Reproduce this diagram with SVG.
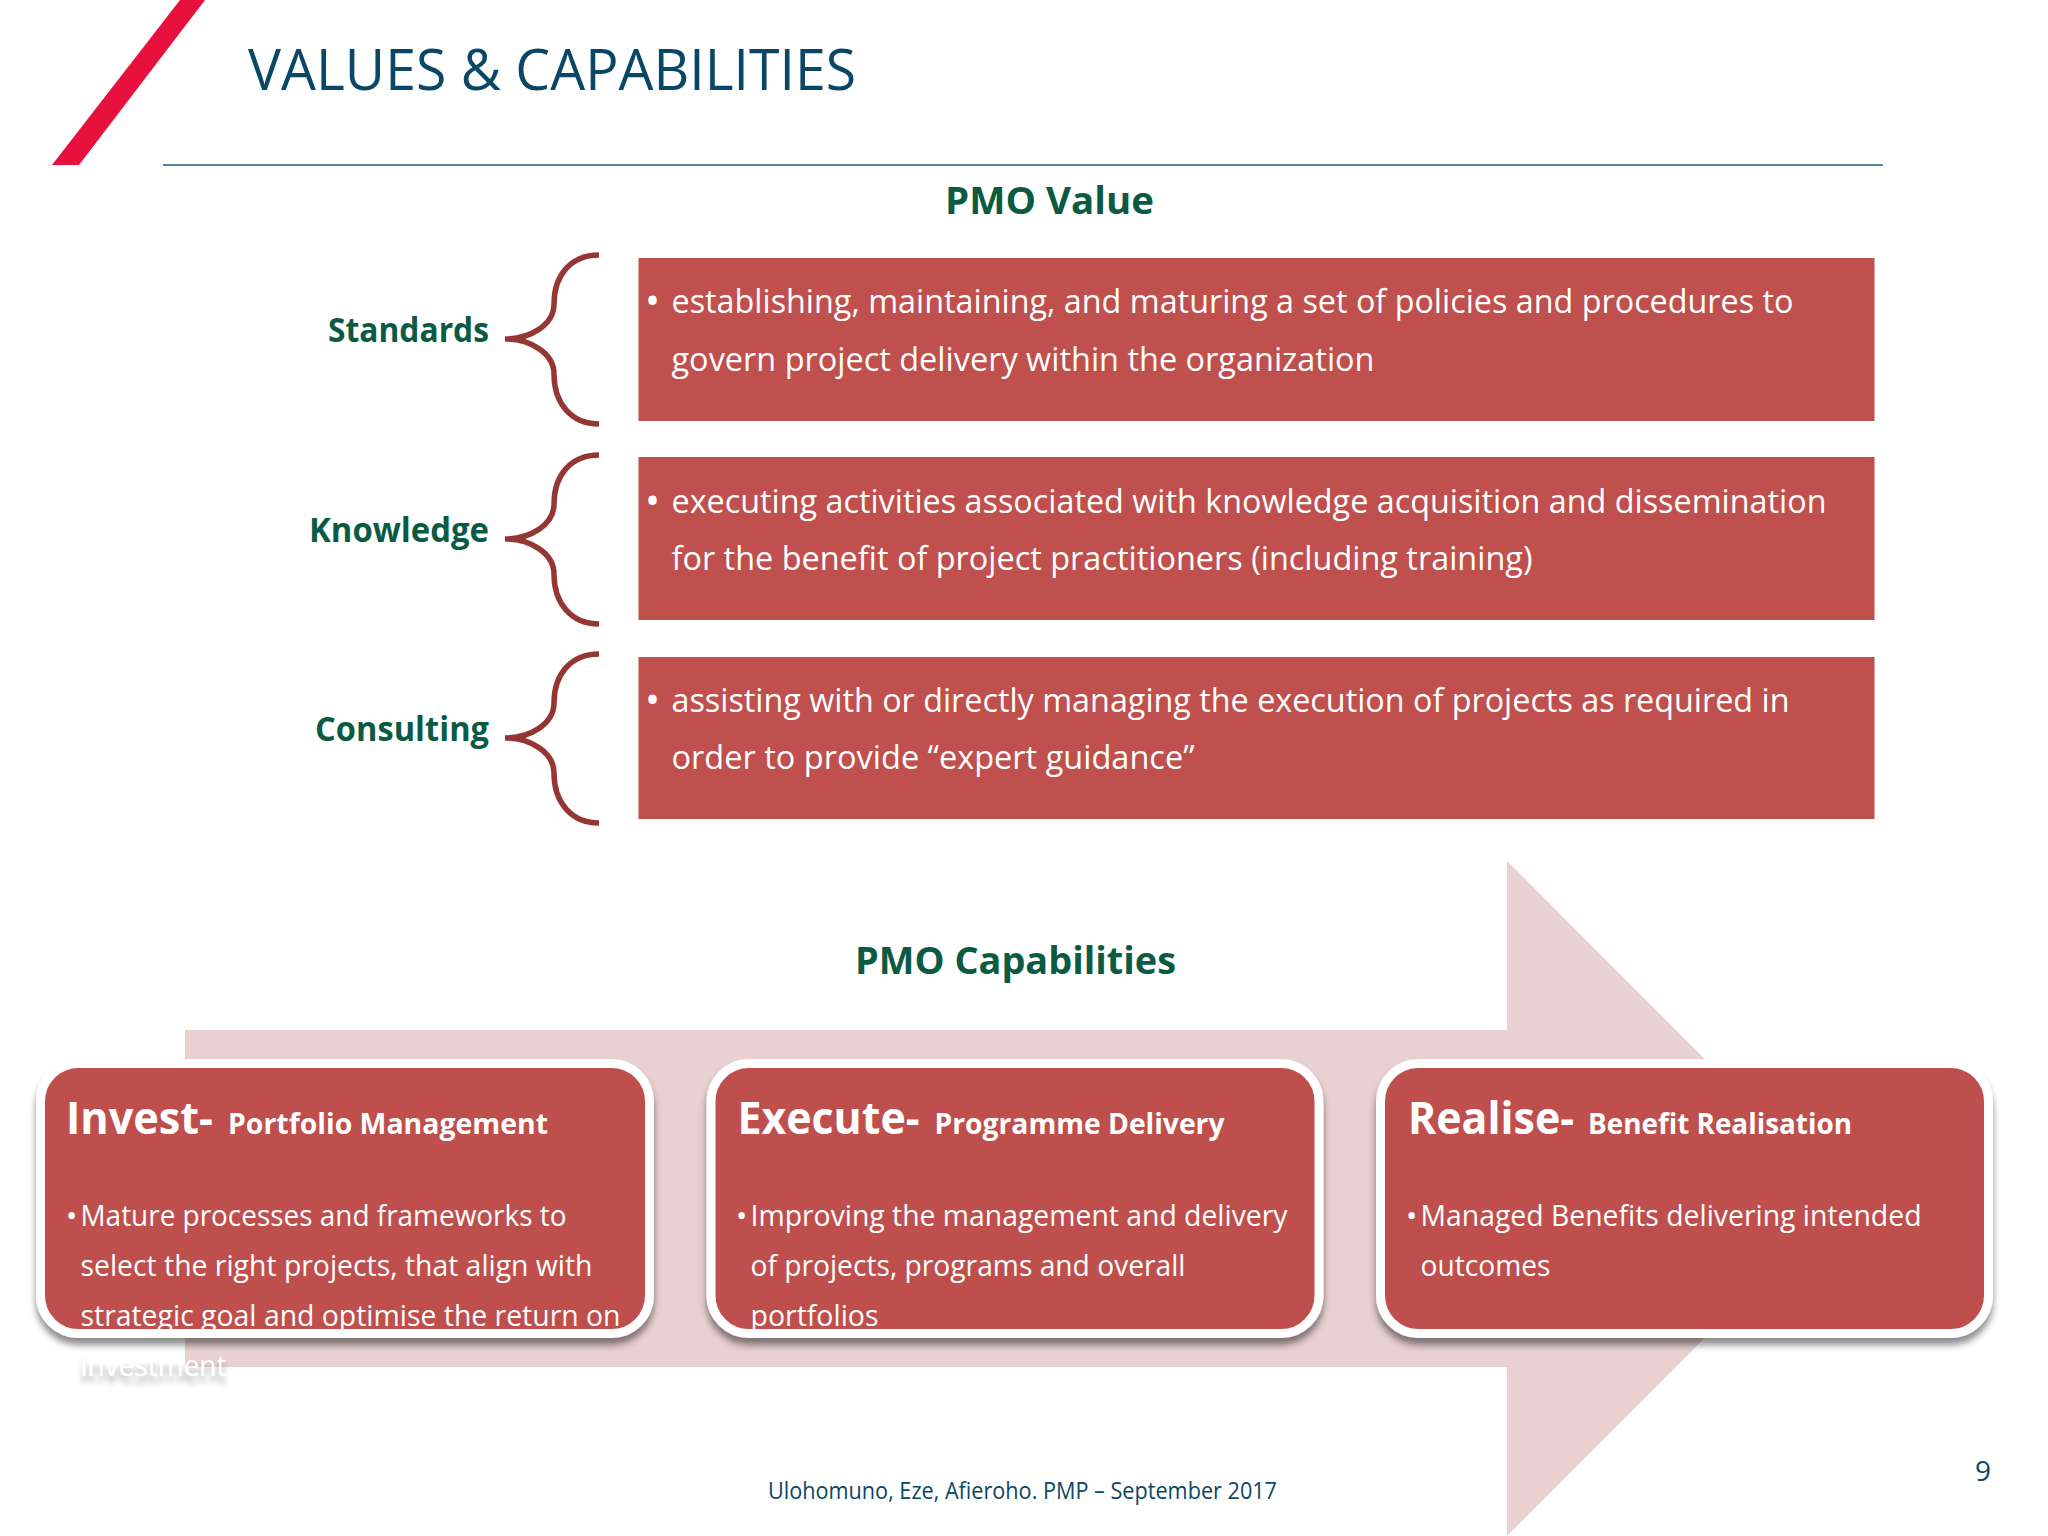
<svg xmlns="http://www.w3.org/2000/svg" xmlns:xlink="http://www.w3.org/1999/xlink" width="2048" height="1536" viewBox="0 0 2048 1536">
<style>
text{font-family:"Open Sans","Noto Sans","Liberation Sans",sans-serif}
.h{font-weight:700;fill:#0b5a42}
.lab{font-weight:700;fill:#0b5a42;font-size:34px}
.bt{fill:#fff;font-size:33px}
.bu{fill:#fff;font-size:40px}
.box{fill:#c0504d}
.card{fill:#bf4f4d;stroke:#fff;stroke-width:9;filter:url(#sh)}
.t1{fill:#fff;font-weight:700;font-size:44px}
.t2{fill:#fff;font-weight:700;font-size:29px}
.cb{fill:#fff;font-size:30px}
.brace{fill:none;stroke:#943634;stroke-width:5.500}
</style>
<defs>
<filter id="sh" x="-5%" y="-5%" width="110%" height="115%"><feDropShadow dx="0" dy="7" stdDeviation="3.500" flood-color="#000" flood-opacity="0.45"/></filter>
<filter id="ts" x="-10%" y="-30%" width="120%" height="190%"><feDropShadow dx="0" dy="7" stdDeviation="3" flood-color="#000" flood-opacity="0.35"/></filter>
<path id="br" d="M599 255C571 255 554 275 554 304C554 325 530 339 505 339C530 339 554 353 554 374C554 403 571 424 599 424"/>
</defs>
<rect width="2048" height="1536" fill="#fff"/>
<polygon points="180,0 205,0 79,165 52,165" fill="#e8103c"/>
<text x="248" y="90" font-size="57" fill="#0a4766" textLength="608" lengthAdjust="spacingAndGlyphs">VALUES &amp; CAPABILITIES</text>
<line x1="163" y1="165" x2="1883" y2="165" stroke="#1f5a7a" stroke-width="1.600"/>
<polygon points="185,1030 1507,1030 1507,861 1844,1198.500 1507,1536 1507,1367 185,1367" fill="#e9d0d1"/>
<text class="h" x="945" y="214" font-size="38" textLength="209" lengthAdjust="spacingAndGlyphs">PMO Value</text>
<text class="h" x="855" y="974" font-size="38" textLength="321" lengthAdjust="spacingAndGlyphs">PMO Capabilities</text>
<g id="connectors">
<use xlink:href="#br" href="#br" class="brace"/>
<use xlink:href="#br" href="#br" class="brace" y="200"/>
<use xlink:href="#br" href="#br" class="brace" y="399"/>
</g>
<g id="standards">
<text class="lab" x="328" y="342" textLength="161" lengthAdjust="spacingAndGlyphs">Standards</text>
<rect class="box" x="638.500" y="258" width="1236" height="163"/>
<text class="bu" x="645" y="315">•</text>
<text class="bt" x="671.500" y="313" textLength="1122" lengthAdjust="spacingAndGlyphs">establishing, maintaining, and maturing a set of policies and procedures to</text>
<text class="bt" x="671.500" y="371" textLength="703" lengthAdjust="spacingAndGlyphs">govern project delivery within the organization</text>
</g>
<g id="knowledge">
<text class="lab" x="309" y="542" textLength="180" lengthAdjust="spacingAndGlyphs">Knowledge</text>
<rect class="box" x="638.500" y="457" width="1236" height="163"/>
<text class="bu" x="645" y="515">•</text>
<text class="bt" x="671.500" y="513" textLength="1155" lengthAdjust="spacingAndGlyphs">executing activities associated with knowledge acquisition and dissemination</text>
<text class="bt" x="671.500" y="570" textLength="861" lengthAdjust="spacingAndGlyphs">for the benefit of project practitioners (including training)</text>
</g>
<g id="consulting">
<text class="lab" x="315" y="741" textLength="174" lengthAdjust="spacingAndGlyphs">Consulting</text>
<rect class="box" x="638.500" y="657" width="1236" height="162"/>
<text class="bu" x="645" y="714">•</text>
<text class="bt" x="671.500" y="712" textLength="1118" lengthAdjust="spacingAndGlyphs">assisting with or directly managing the execution of projects as required in</text>
<text class="bt" x="671.500" y="769" textLength="523" lengthAdjust="spacingAndGlyphs">order to provide “expert guidance”</text>
</g>
<g id="invest">
<rect class="card" x="40.500" y="1063.500" width="609" height="270" rx="38"/>
<text class="t1" x="66" y="1134" textLength="147" lengthAdjust="spacingAndGlyphs">Invest-</text>
<text class="t2" x="228" y="1134" textLength="320" lengthAdjust="spacingAndGlyphs">Portfolio Management</text>
<text class="cb" x="66" y="1226">•</text>
<text class="cb" x="80.500" y="1226" textLength="486" lengthAdjust="spacingAndGlyphs">Mature processes and frameworks to</text>
<text class="cb" x="80.500" y="1276" textLength="512" lengthAdjust="spacingAndGlyphs">select the right projects, that align with</text>
<text class="cb" x="80.500" y="1326" textLength="540" lengthAdjust="spacingAndGlyphs">strategic goal and optimise the return on</text>
<text class="cb" x="80.500" y="1376" textLength="146" lengthAdjust="spacingAndGlyphs" filter="url(#ts)">investment</text>
</g>
<g id="execute">
<rect class="card" x="711" y="1063.500" width="608" height="270" rx="38"/>
<text class="t1" x="737.500" y="1134" textLength="182" lengthAdjust="spacingAndGlyphs">Execute-</text>
<text class="t2" x="934.500" y="1134" textLength="290" lengthAdjust="spacingAndGlyphs">Programme Delivery</text>
<text class="cb" x="736" y="1226">•</text>
<text class="cb" x="750.500" y="1226" textLength="537" lengthAdjust="spacingAndGlyphs">Improving the management and delivery</text>
<text class="cb" x="750.500" y="1276" textLength="435" lengthAdjust="spacingAndGlyphs">of projects, programs and overall</text>
<text class="cb" x="750.500" y="1326" textLength="128" lengthAdjust="spacingAndGlyphs">portfolios</text>
</g>
<g id="realise">
<rect class="card" x="1380.500" y="1063.500" width="608" height="270" rx="38"/>
<text class="t1" x="1408" y="1134" textLength="166" lengthAdjust="spacingAndGlyphs">Realise-</text>
<text class="t2" x="1588" y="1134" textLength="264" lengthAdjust="spacingAndGlyphs">Benefit Realisation</text>
<text class="cb" x="1406" y="1226">•</text>
<text class="cb" x="1420.500" y="1226" textLength="501" lengthAdjust="spacingAndGlyphs">Managed Benefits delivering intended</text>
<text class="cb" x="1420.500" y="1276" textLength="130" lengthAdjust="spacingAndGlyphs">outcomes</text>
</g>
<text x="768" y="1499" font-size="23" fill="#0a4766" textLength="509" lengthAdjust="spacingAndGlyphs">Ulohomuno, Eze, Afieroho. PMP – September 2017</text>
<text x="1975" y="1481" font-size="28" fill="#0a4766">9</text>
</svg>
